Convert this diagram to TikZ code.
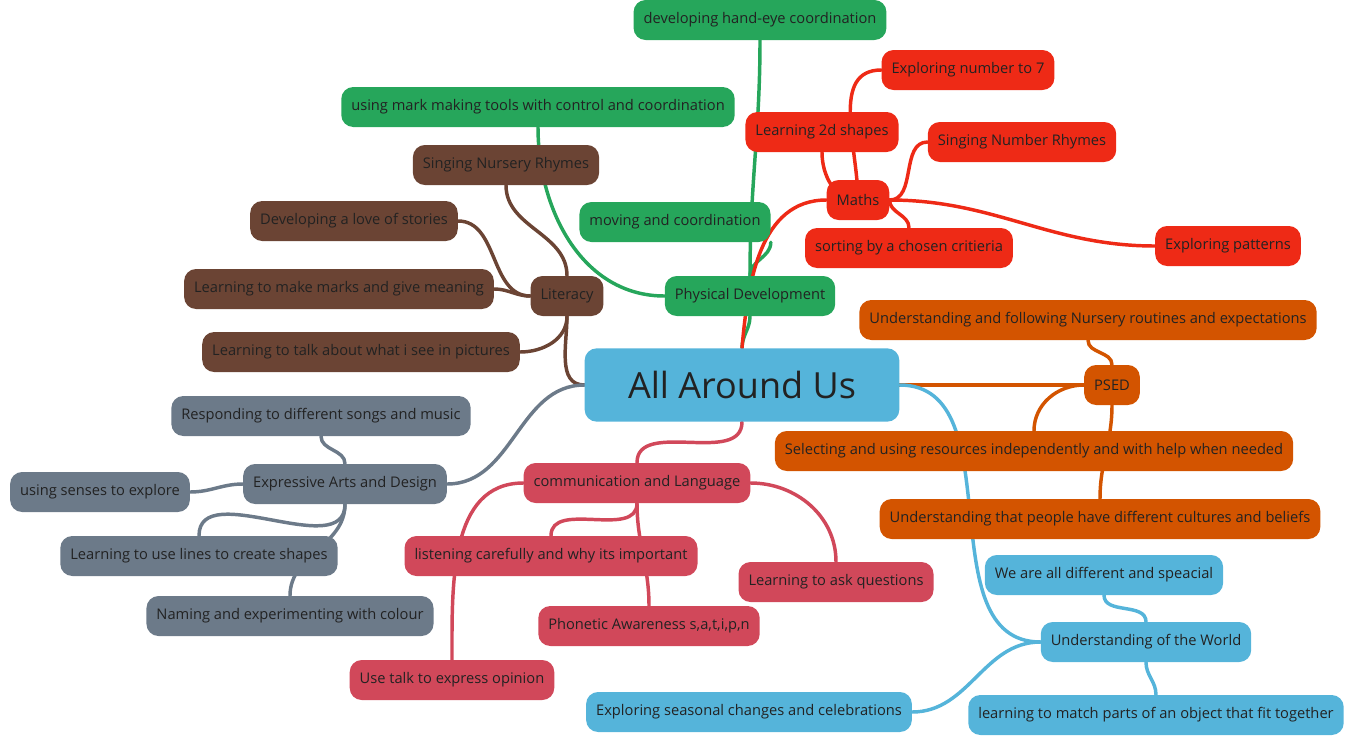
\documentclass[tikz,border=0pt]{standalone}
\usepackage{fontspec}
\setmainfont{Open Sans}
\usetikzlibrary{backgrounds}
\definecolor{cgreen}{HTML}{26A65B}
\definecolor{cred}{HTML}{EE2A16}
\definecolor{cbrown}{HTML}{6B4434}
\definecolor{corange}{HTML}{D35400}
\definecolor{cblue}{HTML}{55B4DA}
\definecolor{cgrey}{HTML}{6C7A89}
\definecolor{ccrim}{HTML}{D1485A}
\definecolor{ctext}{HTML}{222222}
\tikzset{
 bx/.style={fill=#1,rounded corners=9pt,minimum height=30pt,inner xsep=7.5pt,text=ctext,font=\fontsize{11}{13}\selectfont},
 ln/.style={draw=#1,line width=2.6pt,line cap=round},
}
\begin{document}
\begin{tikzpicture}[x=0.75pt,y=-0.75pt]
\useasboundingbox (0,0) rectangle (1361,736);
% center
\node[fill=cblue,rounded corners=9pt,minimum width=236pt,minimum height=55pt,text=ctext,font=\fontsize{27}{30}\selectfont] (c) at (742,385) {All Around Us};
% green
\node[bx=cgreen] (pd) at (750,296) {Physical Development};
\node[bx=cgreen] (mc) at (675,222) {moving and coordination};
\node[bx=cgreen] (mm) at (538,107) {using mark making tools with control and coordination};
\node[bx=cgreen] (he) at (760,20) {developing hand-eye coordination};
% red
\node[bx=cred] (ma) at (858,200) {Maths};
\node[bx=cred] (sh) at (822,132) {Learning 2d shapes};
\node[bx=cred] (n7) at (968,70) {Exploring number to 7};
\node[bx=cred] (nr) at (1022,142) {Singing Number Rhymes};
\node[bx=cred] (so) at (909,248) {sorting by a chosen critieria};
\node[bx=cred] (pa) at (1228,246) {Exploring patterns};
% brown
\node[bx=cbrown] (li) at (567,296) {Literacy};
\node[bx=cbrown] (sn) at (506,165) {Singing Nursery Rhymes};
\node[bx=cbrown] (st) at (354,221) {Developing a love of stories};
\node[bx=cbrown] (mk) at (339,289) {Learning to make marks and give meaning};
\node[bx=cbrown] (pi) at (361,352) {Learning to talk about what i see in pictures};
% orange
\node[bx=corange] (ps) at (1112,385) {PSED};
\node[bx=corange] (ro) at (1088,320) {Understanding and following Nursery routines and expectations};
\node[bx=corange] (se) at (1034,451) {Selecting and using resources independently and with help when needed};
\node[bx=corange] (cu) at (1100,519) {Understanding that people have different cultures and beliefs};
% grey
\node[bx=cgrey] (ea) at (345,484) {Expressive Arts and Design};
\node[bx=cgrey] (rs) at (321,416) {Responding to different songs and music};
\node[bx=cgrey] (us) at (100,492) {using senses to explore};
\node[bx=cgrey] (ls) at (199,556) {Learning to use lines to create shapes};
\node[bx=cgrey] (co) at (290,616) {Naming and experimenting with colour};
% crimson
\node[bx=ccrim] (cl) at (637,483) {communication and Language};
\node[bx=ccrim] (lc) at (551,556) {listening carefully and why its important};
\node[bx=ccrim] (aq) at (836,582) {Learning to ask questions};
\node[bx=ccrim] (ph) at (649,626) {Phonetic Awareness s,a,t,i,p,n};
\node[bx=ccrim] (ut) at (452,680) {Use talk to express opinion};
% blue
\node[bx=cblue] (uw) at (1146,642) {Understanding of the World};
\node[bx=cblue] (wd) at (1104,575) {We are all different and speacial};
\node[bx=cblue] (sc) at (749,712) {Exploring seasonal changes and celebrations};
\node[bx=cblue] (mp) at (1156,715) {learning to match parts of an object that fit together};
\begin{scope}[on background layer]
% green
\draw[ln=cgreen] (c.north) to[out=90,in=-90] (pd.south);
\draw[ln=cgreen] (pd.north) to[out=90,in=-90] (mc.south east);
\draw[ln=cgreen] (pd.north) to[out=90,in=-90] (he.south);
\draw[ln=cgreen] (pd.west) to[out=180,in=-90] (mm.south);
% red
\draw[ln=cred] (c.north) to[out=85,in=180] (ma.west);
\draw[ln=cred] (ma.center) to[out=180,in=-90] (sh.south);
\draw[ln=cred] (ma.center) to[out=90,in=180] (n7.west);
\draw[ln=cred] (ma.east) to[out=0,in=180] (nr.west);
\draw[ln=cred] (ma.east) to[out=-90,in=90] (so.north);
\draw[ln=cred] (ma.east) to[out=0,in=180] (pa.west);
% brown
\draw[ln=cbrown] (c.west) to[out=180,in=-90] (li.south);
\draw[ln=cbrown] (li.north) to[out=90,in=-90] (sn.south);
\draw[ln=cbrown] (li.west) to[out=180,in=0] (st.east);
\draw[ln=cbrown] (li.west) to[out=180,in=0] (mk.east);
\draw[ln=cbrown] (li.south) to[out=-90,in=0] (pi.east);
% orange
\draw[ln=corange] (c.east) to[out=0,in=180] (ps.west);
\draw[ln=corange] (ps.north) to[out=90,in=-90] (ro.south);
\draw[ln=corange] (ps.west) to[out=180,in=90] (se.north);
\draw[ln=corange] (ps.south) to[out=-90,in=90] (cu.north);
% grey
\draw[ln=cgrey] (c.west) to[out=180,in=0] (ea.east);
\draw[ln=cgrey] (ea.north) to[out=90,in=-90] (rs.south);
\draw[ln=cgrey] (ea.west) to[out=180,in=0] (us.east);
\draw[ln=cgrey] (ea.south) to[out=-90,in=90] (ls.north);
\draw[ln=cgrey] (ea.south) to[out=-90,in=90] (co.north);
% crimson
\draw[ln=ccrim] (c.south) to[out=-90,in=90] (cl.north);
\draw[ln=ccrim] (cl.south) to[out=-90,in=90] (lc.north);
\draw[ln=ccrim] (cl.east) to[out=0,in=90] (aq.north);
\draw[ln=ccrim] (cl.south) to[out=-90,in=90] (ph.north);
\draw[ln=ccrim] (cl.west) to[out=180,in=90] (ut.north);
% blue
\draw[ln=cblue] (c.east) to[out=0,in=180] (uw.west);
\draw[ln=cblue] (uw.north) to[out=90,in=-90] (wd.south);
\draw[ln=cblue] (uw.west) to[out=180,in=0] (sc.east);
\draw[ln=cblue] (uw.south) to[out=-90,in=90] (mp.north);
\end{scope}
\end{tikzpicture}
\end{document}
